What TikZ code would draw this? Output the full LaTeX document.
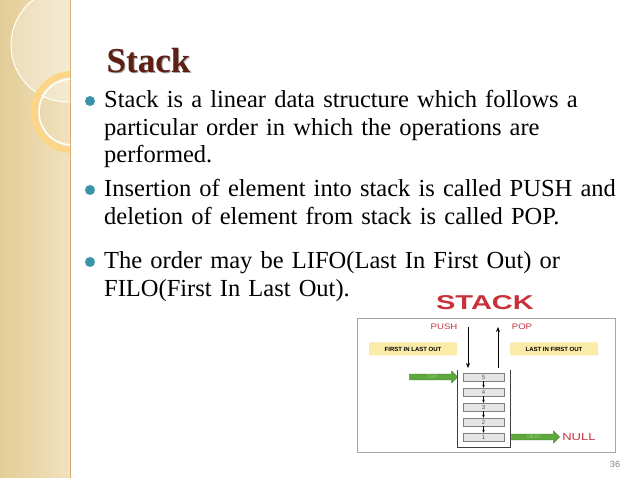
\documentclass[tikz,border=0pt]{standalone}
\usepackage{fontspec}
\setmainfont{Liberation Serif}
\newfontfamily\sans{Liberation Sans}
\usetikzlibrary{arrows.meta,shapes.arrows}
\definecolor{tanA}{HTML}{F1E2BF}
\definecolor{tanB}{HTML}{E3CC96}
\definecolor{titlec}{HTML}{5E1F14}
\definecolor{bulc}{HTML}{3A93A8}
\definecolor{stred}{HTML}{C8303A}
\definecolor{yel}{HTML}{FBEBA8}
\definecolor{grn}{HTML}{5DA83A}
\tikzset{
 body/.style={anchor=base west,font=\fontsize{24.5}{27.5}\selectfont,align=left,text width=530pt,inner sep=0pt},
 bul/.style={circle,fill=bulc,minimum size=10pt,inner sep=0pt},
 lbl/.style={font=\sans\bfseries\fontsize{6}{6}\selectfont,inner sep=1pt},
 ybox/.style={lbl,fill=yel,minimum width=88pt,minimum height=13pt,rounded corners=1pt},
 cell/.style={draw=gray,fill=gray!20,minimum width=41pt,minimum height=8pt,inner sep=0pt,font=\sans\fontsize{6}{6}\selectfont,text=gray!70!black},
 garrow/.style={single arrow,fill=grn,draw=grn!70!black,minimum height=48pt,minimum width=12pt,single arrow head extend=3pt,inner sep=1pt,font=\sans\fontsize{5}{5}\selectfont,text=grn!60!white},
 arr/.style={-{Stealth[length=5pt,width=4pt]},line width=0.7pt},
 sarr/.style={-{Stealth[length=3pt,width=2.5pt]},line width=0.5pt},
}
\begin{document}
\begin{tikzpicture}[x=1pt,y=-1pt]
\useasboundingbox (0,0) rectangle (638,478);
\fill[white] (0,0) rectangle (638,478);
\shade[left color=tanB,right color=tanA] (0,0) rectangle (70,478);
\draw[tanB!60!brown,line width=0.8pt] (70,0) -- (70,478);
\begin{scope}
\clip (0,0) rectangle (70,478);
\fill[white,opacity=0.3] (68,45) circle (57);
\draw[white,line width=1pt] (68,45) circle (57);
\draw[yel!80!orange,line width=6pt] (72,112) circle (38);
\draw[white,line width=1.5pt] (72,112) circle (33);
\end{scope}
\node[anchor=base west,font=\bfseries\fontsize{35}{35}\selectfont,text=black!35,inner sep=0pt] (tsh) at (107.5,73.5) {Stack};
\node[anchor=base west,font=\bfseries\fontsize{35}{35}\selectfont,text=titlec,inner sep=0pt] (title) at (106.5,72.5) {Stack};
\node[bul] (b1) at (90,101) {};
\node[body] (t1) at (104,108) {Stack is a linear data structure which follows a\\particular order in which the operations are\\performed.};
\node[bul] (b2) at (90,190) {};
\node[body] (t2) at (104,197) {Insertion of element into stack is called PUSH and\\deletion of element from stack is called POP.};
\node[bul] (b3) at (90,262) {};
\node[body] (t3) at (104,269) {The order may be LIFO(Last In First Out) or\\FILO(First In Last Out).};
% diagram
\node[draw=gray!70,line width=0.8pt,minimum width=258pt,minimum height=134pt,inner sep=0pt,anchor=north west] (frame) at (357,318) {};
\node[font=\sans\bfseries\fontsize{20}{20}\selectfont,text=stred,inner sep=0pt,xscale=1.45] (st) at (485,303) {STACK};
\node[lbl,text=stred,font=\sans\fontsize{8}{8}\selectfont,xscale=1.2] (push) at (444,327) {PUSH};
\node[lbl,text=stred,font=\sans\fontsize{8}{8}\selectfont,xscale=1.2] (pop) at (522,327) {POP};
\node[ybox] (fil) at (413,349) {FIRST IN LAST OUT};
\node[ybox] (lif) at (554,349) {LAST IN FIRST OUT};
\coordinate (ptop) at (468,327);
\coordinate (pbot) at (468,368);
\coordinate (qbot) at (498,368);
\coordinate (qtop) at (498,327);
\draw[arr] (ptop) -- (pbot);
\draw[arr] (qbot) -- (qtop);
\coordinate (ca) at (457,370);
\coordinate (cb) at (457,447);
\coordinate (cc) at (510,447);
\coordinate (cd) at (510,370);
\draw[gray!50!black,line width=0.8pt] (ca) -- (cb) -- (cc) -- (cd);
\foreach \n/\y in {5/377,4/392,3/407,2/422,1/437}{\node[cell] (c\n) at (483.5,\y) {\n};}
\foreach \a/\b in {5/4,4/3,3/2,2/1}{\draw[sarr] (c\a) -- (c\b);}
\node[garrow] (topa) at (432,377) {TOP};
\node[garrow] (nexta) at (534,437) {NEXT};
\node[font=\sans\fontsize{10}{10}\selectfont,text=stred,anchor=west,inner sep=0pt,xscale=1.3] (null) at (562,437) {NULL};
\node[font=\sans\fontsize{9}{9}\selectfont,text=gray,inner sep=0pt] (pg) at (615,464) {36};
\end{tikzpicture}
\end{document}
